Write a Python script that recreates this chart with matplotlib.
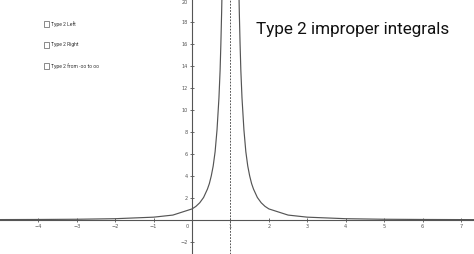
import matplotlib
matplotlib.use("Agg")
import matplotlib.pyplot as plt

# ── DATA ──────────────────────────────────────────────────────────────────────
left_x = [-5.0, -4.0, -3.0, -2.0, -1.0, -0.5, 0.0, 0.1, 0.2, 0.3, 0.4, 0.45,
          0.5, 0.55, 0.6, 0.65, 0.7, 0.73, 0.75, 0.77, 0.78]
left_y = [0.03, 0.04, 0.06, 0.11, 0.25, 0.44, 1.0, 1.23, 1.56, 2.04, 2.8, 3.3,
          4.0, 4.9, 6.2, 8.2, 11.1, 13.6, 16.0, 18.9, 20.7]
right_x = [1.22, 1.23, 1.25, 1.27, 1.3, 1.35, 1.4, 1.45, 1.5, 1.55, 1.6, 1.7,
           1.8, 1.9, 2.0, 2.5, 3.0, 4.0, 5.0, 6.0, 7.4]
right_y = [20.7, 18.9, 16.0, 13.6, 11.1, 8.2, 6.2, 4.9, 4.0, 3.3, 2.8, 2.04,
           1.56, 1.23, 1.0, 0.44, 0.25, 0.11, 0.06, 0.04, 0.024]
asymptote_x = 1

x_ticks = [-4, -3, -2, -1, 1, 2, 3, 4, 5, 6, 7]
y_ticks = [-2, 2, 4, 6, 8, 10, 12, 14, 16, 18]

checkbox_labels = ["Type 2 Left", "Type 2 Right", "Type 2 from -oo to oo"]
title_text = "Type 2 improper integrals"

# ── FIGURE ────────────────────────────────────────────────────────────────────
fig = plt.figure(figsize=(4.74, 2.54), dpi=100)
ax = fig.add_axes([0, 0, 1, 1])
ax.set_xlim(-5.0, 7.34)
ax.set_ylim(-3.1, 20.0)

axis_col = "#555555"
ax.spines["left"].set_position(("data", 0))
ax.spines["bottom"].set_position(("data", 0))
ax.spines["top"].set_visible(False)
ax.spines["right"].set_visible(False)
for s in ("left", "bottom"):
    ax.spines[s].set_color(axis_col)
    ax.spines[s].set_linewidth(0.8)

ax.set_xticks(x_ticks)
ax.set_yticks(y_ticks)
ax.tick_params(axis="both", direction="inout", length=2.5, width=0.6,
               colors=axis_col, labelsize=3.6, pad=1.5)

# "0" label sits just below-left of the origin, "20" is clipped at the top edge
ax.text(-0.08, -0.4, "0", fontsize=3.6, color=axis_col, ha="right", va="top")
ax.text(-0.1, 20.0, "20", fontsize=3.6, color=axis_col, ha="right", va="top")

# vertical asymptote
ax.axvline(asymptote_x, color="#555555", linestyle=(0, (1.8, 1.4)), linewidth=0.7)

# curve
ax.plot(left_x, left_y, color="#555555", linewidth=0.85)
ax.plot(right_x, right_y, color="#555555", linewidth=0.85)

# checkboxes
for i, lab in enumerate(checkbox_labels):
    yy = 0.905 - i * 0.082
    fig.patches.append(plt.Rectangle((0.093, yy - 0.011), 0.011, 0.022,
                                     transform=fig.transFigure, fill=False,
                                     edgecolor="#777777", linewidth=0.6))
    fig.text(0.108, yy, lab, fontsize=3.6, color="#333333", va="center",
             family="Roboto")

fig.text(0.541, 0.885, title_text, fontsize=12.3, color="#111111",
         va="center", ha="left", family="Roboto")

fig.savefig("out.png", dpi=100)
